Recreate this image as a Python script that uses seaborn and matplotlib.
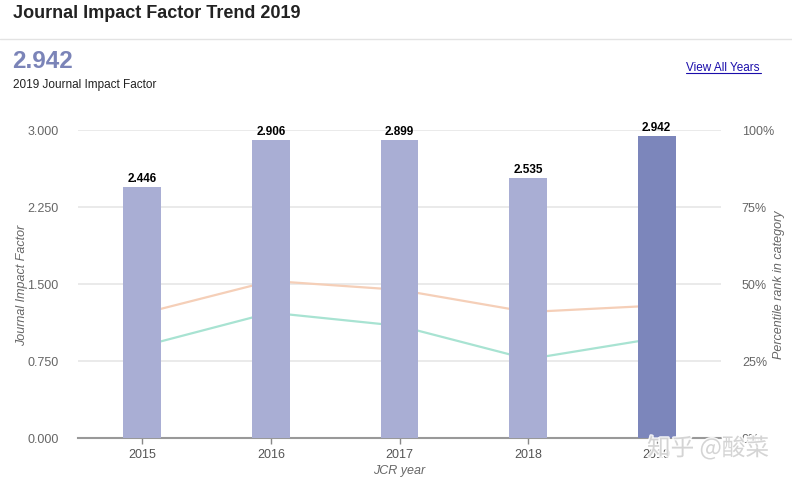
import matplotlib
matplotlib.use("Agg")
import matplotlib.pyplot as plt
import seaborn as sns
import pandas as pd
import numpy as np
import matplotlib.patheffects as pe

years = ["2015", "2016", "2017", "2018", "2019"]
jif = [2.446, 2.906, 2.899, 2.535, 2.942]
pct_orange = [40.4, 51.0, 48.1, 40.9, 43.0]
pct_green = [29.8, 40.7, 36.4, 25.6, 32.4]
yticks_left = [0.0, 0.75, 1.5, 2.25, 3.0]
ytick_left_labels = ["0.000", "0.750", "1.500", "2.250", "3.000"]
yticks_right = [0, 25, 50, 75, 100]
ytick_right_labels = ["0%", "25%", "50%", "75%", "100%"]

sns.set_theme(style="white")
plt.rcParams['font.family'] = ['Liberation Sans', 'DejaVu Sans']

fig = plt.figure(figsize=(7.92, 4.81), dpi=100)
W, H = 792, 481
ax_left, ax_right, ax_top, ax_bot = 78, 721, 131, 439
ax = fig.add_axes([ax_left / W, 1 - ax_bot / H, (ax_right - ax_left) / W, (ax_bot - ax_top) / H])

df = pd.DataFrame({"year": years, "jif": jif})
bar_colors = ["#a9aed4"] * 4 + ["#7c86bb"]

# Percentile lines on twin axis (drawn behind bars)
ax2 = ax.twinx()
ax2.set_ylim(0, 100)
xs = np.arange(len(years))
sns.lineplot(x=xs, y=pct_orange, ax=ax2, color="#f5cfb8", lw=1.6, zorder=1)
sns.lineplot(x=xs, y=pct_green, ax=ax2, color="#a8e3d2", lw=1.6, zorder=1)
ax2.set_zorder(ax.get_zorder() - 1)
ax.patch.set_visible(False)

sns.barplot(data=df, x="year", y="jif", hue="year", palette=bar_colors, legend=False,
            ax=ax, width=0.295, saturation=1, zorder=3, linewidth=0, edgecolor="none")
ax.set_xlim(-0.5, 4.5)
ax.set_ylim(0, 3.0)

for i, v in enumerate(jif):
    ax.text(i, v + 0.03, f"{v:.3f}", ha="center", va="bottom", fontsize=8.5,
            fontweight="bold", color="#000000", zorder=5)

# gridlines
for yv in yticks_left:
    if yv > 0:
        ax2.axhline(yv / 3.0 * 100, color="#e6e6e6", lw=1.2, zorder=0)

ax.set_yticks(yticks_left)
ax.set_yticklabels(ytick_left_labels, color="#666666", fontsize=9)
ax2.set_yticks(yticks_right)
ax2.set_yticklabels(ytick_right_labels, color="#666666", fontsize=9)
ax.tick_params(axis="y", length=0, pad=14)
ax2.tick_params(axis="y", length=0, pad=15)
ax.tick_params(axis="x", length=4, width=1, color="#888888", colors="#555555", labelsize=9, pad=3, direction="out", bottom=True)
ax.set_xlabel("JCR year", style="italic", color="#666666", fontsize=9, labelpad=3)
ax.set_ylabel("Journal Impact Factor", style="italic", color="#666666", fontsize=9)
ax2.set_ylabel("Percentile rank in category", style="italic", color="#666666", fontsize=9)
ax.yaxis.set_label_coords((28 - ax_left) / (ax_right - ax_left), 0.5)
ax2.yaxis.set_label_coords((773 - ax_left) / (ax_right - ax_left), 0.5)

for a in (ax, ax2):
    for s in ["top", "right", "left"]:
        a.spines[s].set_visible(False)
ax2.spines["bottom"].set_visible(False)
ax.spines["bottom"].set_color("#999999")
ax.spines["bottom"].set_linewidth(1.5)

# header
fig.text(13 / W, 1 - 14 / H, "Journal Impact Factor Trend 2019", fontsize=13, fontweight="bold",
         color="#222222", va="center", ha="left")
fig.add_artist(plt.Line2D([0, 1], [1 - 39.5 / H, 1 - 39.5 / H], color="#e3e3e3", lw=1))
fig.text(12 / W, 1 - 62 / H, "2.942", fontsize=17.5, fontweight="bold", color="#7b84b8", va="center", ha="left")
fig.text(13 / W, 1 - 85 / H, "2019 Journal Impact Factor", fontsize=8.5, color="#222222", va="center", ha="left")
fig.text(686 / W, 1 - 68 / H, "View All Years", fontsize=8.5, color="#1a0dab", va="center", ha="left")
fig.add_artist(plt.Line2D([686 / W, 761 / W], [1 - 74 / H, 1 - 74 / H], color="#1a0dab", lw=0.8))

# watermark
fig.text(647 / W, 1 - 449 / H, "知乎 @酸菜", fontsize=17, color="#d0d0d0", alpha=0.9,
         family=['Noto Sans CJK SC', 'DejaVu Sans'], va="center", ha="left",
         path_effects=[pe.withStroke(linewidth=2, foreground="white")])

fig.savefig("out.png", dpi=100)
